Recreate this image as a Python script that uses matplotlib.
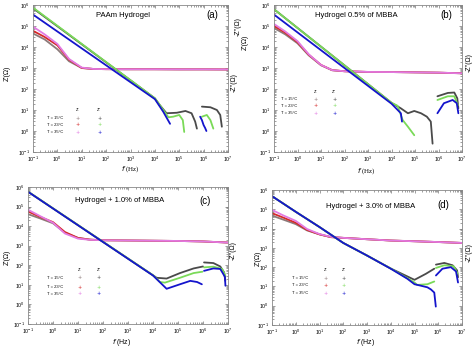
import matplotlib.pyplot as plt
import numpy as np
from matplotlib.ticker import LogLocator, NullFormatter

nan = np.nan

# frequency grid used for the real part Z'
f_re = [0.1, 0.3, 1, 3, 10, 30, 100, 1e3, 1e4, 1e5, 1e6, 1e7]
temps = ['T = 15°C', 'T = 23°C', 'T = 35°C']

# (a) PAAm hydrogel
a_re15 = [44000, 23000, 7800, 2100, 1000, 900, 880, 870, 870, 860, 860, 850]
a_re23 = [59000, 30000, 12000, 2500, 1000, 900, 880, 870, 870, 860, 860, 850]
a_re35 = [93000, 40000, 14000, 2700, 1050, 900, 880, 870, 870, 860, 860, 850]
a_f15 = [0.1, 1e4, 1.6e4, 3e4, 8e4, 1.8e5, 3.2e5, 4.5e5, 5.3e5, nan, 8.5e5, 1.9e6, 3.5e6, 4.8e6, 5.6e6]
a_im15 = [7.0e5, 36, 17, 7, 7.4, 9, 7, 2.8, 1.3, nan, 14.5, 13.5, 10, 5.8, 1.6]
a_f23 = [0.1, 1e4, 1.6e4, 3.6e4, 5.6e4, 1e5, 1.4e5, 1.6e5, nan, 8.5e5, 1.35e6, 1.9e6, 2.5e6]
a_im23 = [7.5e5, 36, 17, 4.5, 4.8, 5.8, 3.3, 0.9, nan, 4.8, 5.8, 3.3, 1.3]
a_f35 = [0.1, 1e4, 2.2e4, 4.2e4, nan, 7.2e5, 8.5e5, 1e6, 1.15e6, 1.3e6]
a_im35 = [3.5e5, 33, 8.3, 2.2, nan, 4.8, 3.3, 1.9, 1.4, 1.0]

# (b) hydrogel + 0.5% MBBA
b_re15 = [80000, 40000, 15000, 4000, 1350, 780, 700, 650, 640, 620, 600, 560]
b_re23 = [100000, 48000, 17000, 4300, 1400, 790, 700, 650, 640, 620, 600, 560]
b_re35 = [125000, 55000, 19000, 4500, 1400, 790, 700, 650, 640, 620, 600, 560]
b_f15 = [0.1, 1e4, 2.5e4, 5e4, 9.3e4, 1.8e5, 3.2e5, 4.7e5, 5.6e5, nan, 9e5, 2.5e6, 4.7e6, 6.3e6, 7e6]
b_im15 = [6.3e5, 22, 12, 7, 9, 7, 4.8, 2.8, 0.25, nan, 45, 65, 68, 36, 12]
b_f23 = [0.1, 1e4, 1.8e4, 3e4, 5e4, 9.3e4, nan, 9e5, 2.5e6, 4.7e6, 6.6e6]
b_im23 = [6.3e5, 22, 16, 3.3, 1.6, 0.63, nan, 30, 45, 45, 17]
b_f35 = [0.1, 1e4, 2.5e4, 2.8e4, nan, 9e5, 1.7e6, 4e6, 6e6, 7e6]
b_im35 = [3.5e5, 20, 7, 2.8, nan, 7, 21, 30, 21, 7]

# (c) hydrogel + 1.0% MBBA
c_re15 = [41000, 25000, 14000, 4600, 2500, 2050, 1900, 1850, 1800, 1750, 1650, 1450]
c_re23 = [56000, 30000, 16000, 5000, 2500, 2050, 1900, 1850, 1800, 1750, 1650, 1450]
c_re35 = [69000, 33000, 15000, 4200, 2300, 2000, 1900, 1850, 1800, 1750, 1650, 1450]
c_f15 = [0.1, 1e4, 1.4e4, 3.5e4, 1.2e5, 4.2e5, 1e6, nan, 1.1e6, 2.6e6, 4.9e6, 7e6, 7.8e6]
c_im15 = [5.8e5, 31, 23, 21, 40, 69, 87, nan, 140, 130, 87, 43, 16]
c_f23 = [0.1, 1e4, 1.9e4, 3e4, 1.2e5, 4.2e5, 9.5e5, nan, 1.1e6, 2.6e6, 5.8e6, 7.8e6]
c_im23 = [5.8e5, 31, 14, 13, 23, 40, 47, nan, 78, 85, 65, 30]
c_f35 = [0.1, 1e4, 3.5e4, 1.2e5, 3.1e5, 5.8e5, 9e5, nan, 1.1e6, 2.6e6, 4.9e6, 7.5e6, 7.9e6]
c_im35 = [5.7e5, 30, 6.3, 10.7, 16, 14, 10.7, nan, 52, 69, 65, 26, 9]

# (d) hydrogel + 3.0% MBBA
d_re15 = [47000, 29000, 17000, 8000, 5000, 3600, 3300, 2800, 2400, 2200, 2000, 1800]
d_re23 = [63000, 37000, 20000, 8500, 5000, 3600, 3300, 2800, 2400, 2200, 2000, 1800]
d_re35 = [93000, 48000, 25000, 9500, 5200, 3700, 3300, 2800, 2400, 2200, 2000, 1800]
d_f15 = [0.1, 1, 10, 100, 1e3, 1e4, 1e5, 3e5, 6.8e5, nan, 8e5, 1.8e6, 4e6, 6.2e6, 6.8e6]
d_im15 = [4.8e5, 7.4e4, 1.2e4, 1800, 400, 85, 22, 45, 83, nan, 135, 165, 125, 68, 30]
d_f23 = [0.1, 1, 10, 100, 1e3, 1e4, 1e5, 1.3e5, 3.5e5, 6.8e5, nan, 8e5, 1.8e6, 4.5e6, 6.5e6]
d_im23 = [4.8e5, 7.4e4, 1.2e4, 1800, 400, 85, 16, 12, 13, 18, nan, 91, 125, 110, 46]
d_f35 = [0.1, 1, 10, 100, 1e3, 1e4, 5e4, 1e5, 1.8e5, 3.5e5, 4.9e5, 6.8e5, 7.9e5, nan,
         8e5, 1.5e6, 3.4e6, 5.6e6, 6.8e6]
d_im35 = [4.8e5, 7.4e4, 1.2e4, 1800, 400, 83, 25, 13, 11, 9, 7, 4.8, 0.9, nan,
          37, 83, 100, 60, 16]

re_colors = ['#8c7a7a', '#d42a2a', '#e27ae2']
im_colors = ['#4a4a4a', '#7ada58', '#1414cc']

SANS = 'Liberation Sans'
SERIF = 'Liberation Serif'

W, H = 474, 348
fig = plt.figure(figsize=(W / 100, H / 100), dpi=100)


def add_axes(x0, x1, ytop, ybot):
    return fig.add_axes([x0 / W, 1 - ybot / H, (x1 - x0) / W, (ybot - ytop) / H])


def draw(ax, re, ims, title, tag, title_xy, tag_xy, leg):
    for vals, c in zip(re, re_colors):
        ax.plot(f_re, vals, color=c, lw=1.3, solid_capstyle='round')
    for (f, z), c in zip(ims, im_colors):
        ax.plot(f, z, color=c, lw=1.3, solid_capstyle='round')

    ax.set_xscale('log')
    ax.set_yscale('log')
    ax.set_xlim(0.1, 1e7)
    ax.set_ylim(0.1, 1e6)
    for axis in (ax.xaxis, ax.yaxis):
        axis.set_major_locator(LogLocator(base=10, numticks=20))
        axis.set_minor_locator(LogLocator(base=10, subs=np.arange(2, 10), numticks=20))
        axis.set_minor_formatter(NullFormatter())
    ax.tick_params(which='both', direction='in', top=True, right=True,
                   color='#777777', width=0.5, labelsize=3.8, pad=2)
    ax.tick_params(which='major', length=2.5)
    ax.tick_params(which='minor', length=1.2)
    for lbl in ax.get_xticklabels() + ax.get_yticklabels():
        lbl.set_fontfamily(SANS)
    for s in ax.spines.values():
        s.set_color('#888888')
        s.set_linewidth(0.6)

    ax.text(*title_xy, title, transform=ax.transAxes, fontsize=5.5,
            family=SANS, ha='center', va='center')
    ax.text(*tag_xy, tag, transform=ax.transAxes, fontsize=7,
            family=SANS, ha='center', va='center')

    # hand-made key: row labels, then a Z' and a Z'' symbol per temperature
    x_txt, x_re, x_im, y_head, y_rows = leg
    ax.text(x_re, y_head, "Z'", transform=ax.transAxes, fontsize=3,
            family=SANS, ha='center', va='center')
    ax.text(x_im, y_head, "Z''", transform=ax.transAxes, fontsize=3,
            family=SANS, ha='center', va='center')
    for t, y, cr, ci in zip(temps, y_rows, re_colors, im_colors):
        ax.text(x_txt, y, t, transform=ax.transAxes, fontsize=3,
                family=SANS, ha='left', va='center')
        ax.text(x_re, y, '+', transform=ax.transAxes, fontsize=3.5,
                color=cr, ha='center', va='center')
        ax.text(x_im, y, '+', transform=ax.transAxes, fontsize=3.5,
                color=ci, ha='center', va='center')


ax_a = add_axes(33, 228, 5, 152)
draw(ax_a, [a_re15, a_re23, a_re35],
     [(a_f15, a_im15), (a_f23, a_im23), (a_f35, a_im35)],
     'PAAm Hydrogel', '(a)', (0.46, 0.93), (0.92, 0.93),
     (0.072, 0.23, 0.34, 0.286, [0.231, 0.184, 0.136]))

ax_b = add_axes(274, 462, 5, 152)
draw(ax_b, [b_re15, b_re23, b_re35],
     [(b_f15, b_im15), (b_f23, b_im23), (b_f35, b_im35)],
     'Hydrogel 0.5% of MBBA', '(b)', (0.44, 0.93), (0.915, 0.93),
     (0.037, 0.223, 0.32, 0.408, [0.36, 0.313, 0.265]))

ax_c = add_axes(28, 228, 187, 324)
draw(ax_c, [c_re15, c_re23, c_re35],
     [(c_f15, c_im15), (c_f23, c_im23), (c_f35, c_im35)],
     'Hydrogel + 1.0% of MBBA', '(c)', (0.46, 0.9), (0.885, 0.9),
     (0.095, 0.26, 0.355, 0.394, [0.336, 0.27, 0.219]))

ax_d = add_axes(272, 462, 190, 325)
draw(ax_d, [d_re15, d_re23, d_re35],
     [(d_f15, d_im15), (d_f23, d_im23), (d_f35, d_im35)],
     'Hydrogel + 3.0% of MBBA', '(d)', (0.52, 0.88), (0.9, 0.89),
     (0.105, 0.284, 0.379, 0.407, [0.348, 0.296, 0.237]))

# axis titles, placed in figure pixels
def fig_text(x, y, s, rot=0, size=5, family=SANS, style='normal'):
    fig.text(x / W, 1 - y / H, s, rotation=rot, fontsize=size, family=family,
             style=style, ha='center', va='center')


fig_text(7, 73, "Z'(Ω)", rot=90)
fig_text(234, 82, "-Z''(Ω)", rot=90)
fig_text(238, 27, "-Z''(Ω)", rot=90)
fig_text(245, 42, "Z'(Ω)", rot=90)
fig_text(469, 62, "-Z''(Ω)", rot=90)
fig_text(7, 257, "Z'(Ω)", rot=90)
fig_text(233, 250, "-Z''(Ω)", rot=90)
fig_text(258, 258, "Z'(Ω)", rot=90)
fig_text(469, 253, "-Z''(Ω)", rot=90)

fig_text(130, 169, "$f$ (Hz)", family=SERIF)
fig_text(366, 171, "$f$ (Hz)", family=SERIF)
fig_text(122, 342, "$f$ (Hz)")
fig_text(366, 342, "$f$ (Hz)")

fig.savefig('out.png', dpi=100, facecolor='white')
